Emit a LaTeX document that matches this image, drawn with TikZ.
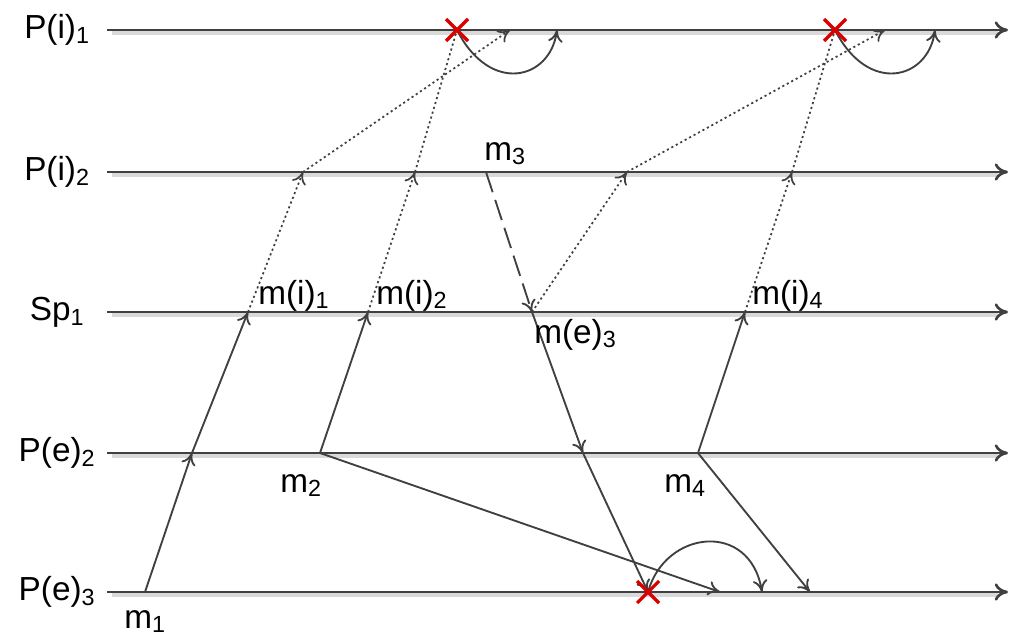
\documentclass[tikz,border=0pt]{standalone}
\usepackage{fontspec}
\setmainfont{Liberation Sans}
\usetikzlibrary{arrows.meta}
\newcommand{\sbx}[1]{\textsubscript{#1}}
\begin{document}
\begin{tikzpicture}[x=0.75pt,y=-0.75pt,
  ln/.style={draw=black!75,line width=1.4pt},
  tl/.style={ln,line width=2pt,-{To[length=10pt,width=13pt]}},
  ar/.style={-{To[length=9pt,width=11pt]}},
  dt/.style={ln,dash pattern=on 1.6pt off 2.2pt,line width=1.3pt},
  dsh/.style={ln,dash pattern=on 16pt off 6pt},
  lab/.style={font=\fontsize{25}{30}\selectfont,inner sep=0pt},
  redx/.style={draw=red!85!black,line width=2.4pt}]
\useasboundingbox (0,0) rectangle (1024,642);
% timelines
\foreach \n/\y/\t in {a/30/{P(i)\sbx{1}},b/172/{P(i)\sbx{2}},c/312/{Sp\sbx{1}},d/453/{P(e)\sbx{2}},e/592/{P(e)\sbx{3}}}{
  \node[lab] (L\n) at (57,\y) {\t};
  \coordinate (S\n) at (107,\y);
  \coordinate (E\n) at (1008,\y);
  \draw[black!15,line width=2.5pt] (112,\y+3) -- (998,\y+3);
  \draw[tl] (S\n) -- (E\n);
}
% events
\coordinate (m1) at (145,592); \coordinate (d1) at (192,453); \coordinate (c1) at (248,312);
\coordinate (b1) at (303,172);
\coordinate (m2) at (320,453); \coordinate (c2) at (368,312); \coordinate (b2) at (415,172);
\coordinate (m3) at (486,172); \coordinate (c3) at (532,312); \coordinate (d3) at (583,453);
\coordinate (x3) at (648,592); \coordinate (b3) at (627,172);
\coordinate (m4) at (698,453); \coordinate (c4) at (745,312); \coordinate (b4) at (792,172);
\coordinate (x1) at (457,30); \coordinate (a1) at (510,30); \coordinate (r1) at (557,30);
\coordinate (x2) at (835,30); \coordinate (a2) at (885,30); \coordinate (r2) at (935,30);
\coordinate (e2) at (720,592); \coordinate (e4) at (810,592); \coordinate (e3) at (762,592);
% solid messages
\draw[ln,ar] (m1) -- (d1); \draw[ln,ar] (d1) -- (c1);
\draw[ln,ar] (m2) -- (c2);
\draw[ln,ar] (m4) -- (c4);
\draw[ln,ar] (c3) -- (d3); \draw[ln,ar] (d3) -- (x3);
\draw[ln,ar] (m2) -- (e2);
\draw[ln,ar] (m4) -- (e4);
\draw[dsh,ar] (m3) -- (c3);
% dotted
\draw[dt,ar] (c1) -- (b1); \draw[dt,ar] (b1) -- (a1);
\draw[dt,ar] (c2) -- (b2); \draw[dt] (b2) -- (x1);
\draw[dt,ar] (c3) -- (b3); \draw[dt,ar] (b3) -- (a2);
\draw[dt,ar] (c4) -- (b4); \draw[dt] (b4) -- (x2);
% loops
\draw[ln,ar] (x1) .. controls (490,95) and (550,80) .. (r1);
\draw[ln,ar] (x2) .. controls (868,95) and (928,80) .. (r2);
\draw[ln,ar] (x3) .. controls (665,530) and (750,520) .. (e3);
% red crosses
\foreach \p in {x1,x2,x3}{
  \draw[redx] ([shift={(-11,-11)}]\p) -- ([shift={(11,11)}]\p);
  \draw[redx] ([shift={(-11,11)}]\p) -- ([shift={(11,-11)}]\p);
}
% labels
\node[lab,anchor=base west] (t1) at (258,304) {m(i)\sbx{1}};
\node[lab,anchor=base west] (t2) at (376,304) {m(i)\sbx{2}};
\node[lab,anchor=base west] (t4) at (752,304) {m(i)\sbx{4}};
\node[lab,anchor=base west] (t3) at (534,343) {m(e)\sbx{3}};
\node[lab,anchor=base west] (tm3) at (484,160) {m\sbx{3}};
\node[lab,anchor=base west] (tm2) at (280,492) {m\sbx{2}};
\node[lab,anchor=base west] (tm4) at (664,492) {m\sbx{4}};
\node[lab,anchor=base west] (tm1) at (124,628) {m\sbx{1}};
\end{tikzpicture}
\end{document}
